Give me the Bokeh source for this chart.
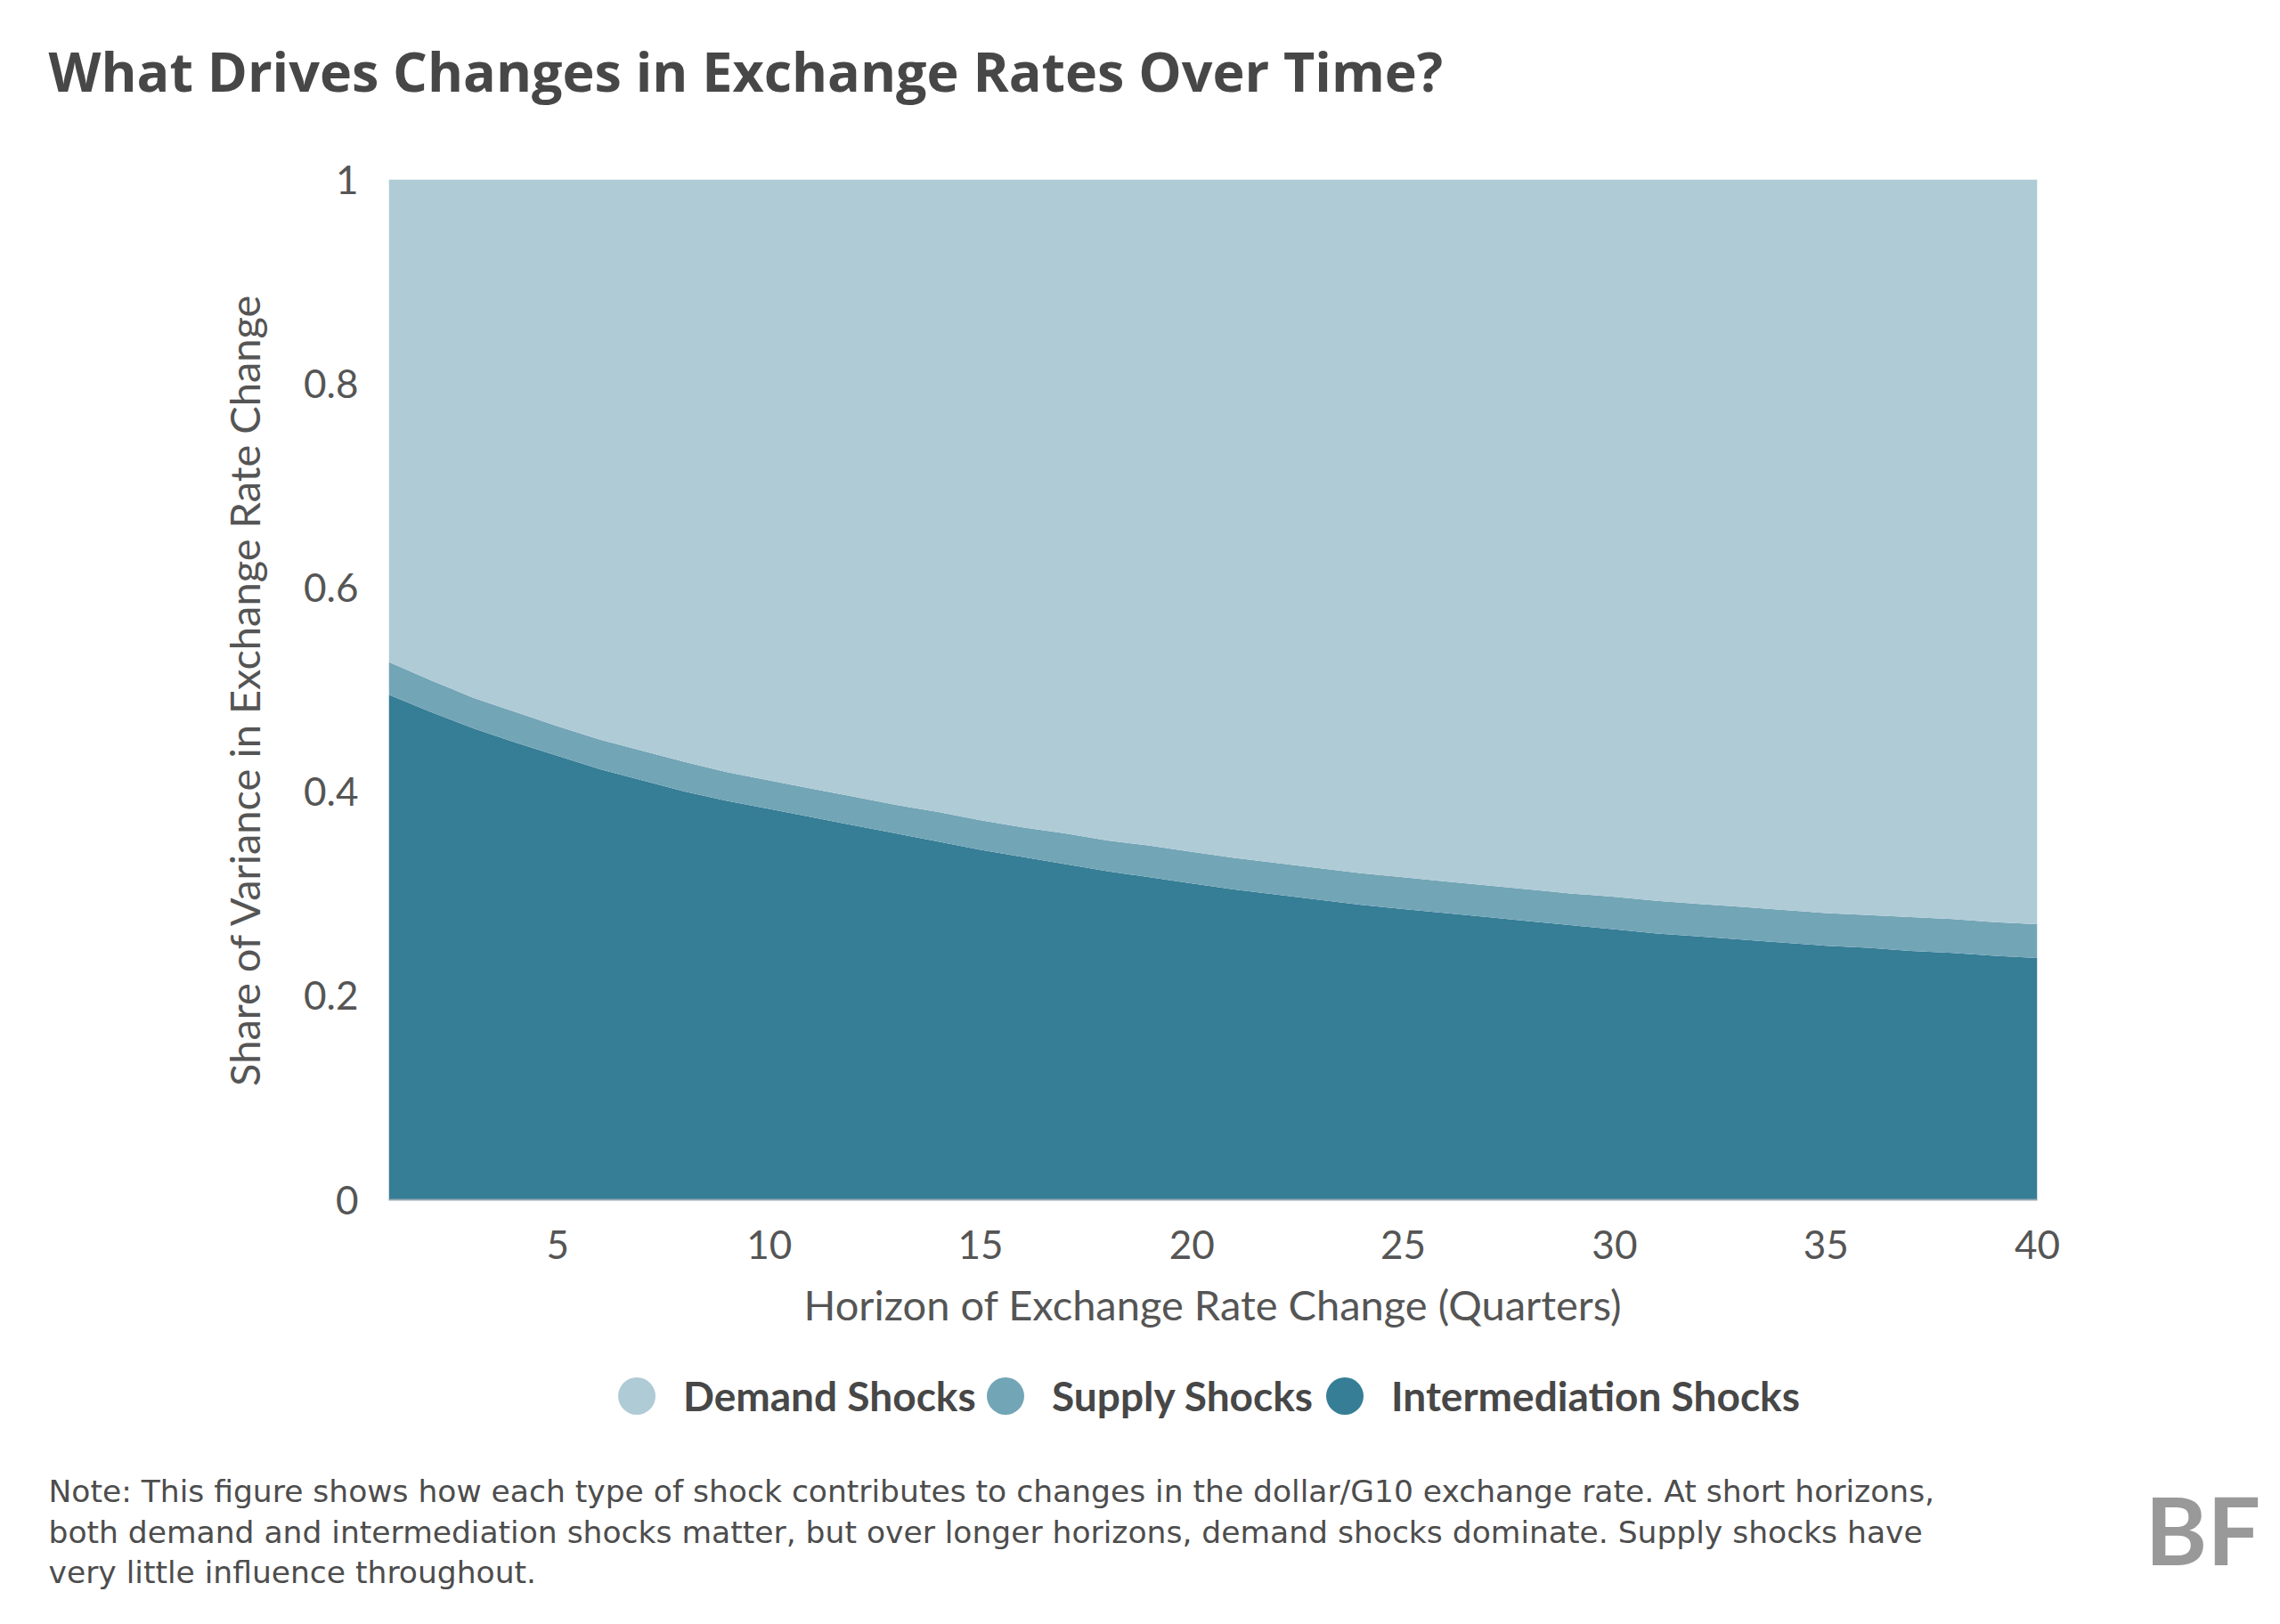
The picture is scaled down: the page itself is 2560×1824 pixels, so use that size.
from bokeh.plotting import figure
from bokeh.layouts import column
from bokeh.models import (ColumnDataSource, Range1d, FixedTicker, Title, Label,
                          Legend, LegendItem)
from bokeh.embed import file_html
from bokeh.resources import INLINE

# Horizon in quarters and variance shares by shock type
quarters = list(range(1, 41))

intermediation = [0.495, 0.478, 0.462, 0.448, 0.435, 0.422, 0.411, 0.400, 0.391, 0.383,
                  0.375, 0.367, 0.359, 0.351, 0.343, 0.336, 0.329, 0.322, 0.316, 0.310,
                  0.304, 0.299, 0.294, 0.289, 0.285, 0.281, 0.277, 0.273, 0.269, 0.265,
                  0.261, 0.258, 0.255, 0.252, 0.249, 0.247, 0.244, 0.242, 0.239, 0.237]

supply = [0.032, 0.031, 0.030, 0.030, 0.029, 0.029, 0.029, 0.029, 0.028, 0.028,
          0.028, 0.028, 0.028, 0.029, 0.029, 0.029, 0.030, 0.030, 0.031, 0.031,
          0.031, 0.031, 0.031, 0.031, 0.031, 0.031, 0.031, 0.031, 0.031, 0.032,
          0.032, 0.032, 0.032, 0.032, 0.032, 0.032, 0.033, 0.033, 0.033, 0.033]

demand = [0.473, 0.491, 0.508, 0.522, 0.536, 0.549, 0.560, 0.571, 0.581, 0.589,
          0.597, 0.605, 0.613, 0.620, 0.628, 0.635, 0.641, 0.648, 0.653, 0.659,
          0.665, 0.670, 0.675, 0.680, 0.684, 0.688, 0.692, 0.696, 0.700, 0.703,
          0.707, 0.710, 0.713, 0.716, 0.719, 0.721, 0.723, 0.725, 0.728, 0.730]

series_names = ["Demand Shocks", "Supply Shocks", "Intermediation Shocks"]
series_colors = ["#afcbd6", "#72a5b6", "#367d96"]

x_ticks = [5, 10, 15, 20, 25, 30, 35, 40]
y_ticks = [0, 0.2, 0.4, 0.6, 0.8, 1]
y_tick_labels = ["0", "0.2", "0.4", "0.6", "0.8", "1"]

title_text = "What Drives Changes in Exchange Rates Over Time?"
note_lines = [
    "Note: This figure shows how each type of shock contributes to changes in the dollar/G10 exchange rate. At short horizons,",
    "both demand and intermediation shocks matter, but over longer horizons, demand shocks dominate. Supply shocks have",
    "very little influence throughout.",
]

TEXT = "#474747"
AXIS_TEXT = "#555555"
W = 2560


def strip(height, top=0, bottom=0):
    """Bare canvas used for the heading and for the legend/note block."""
    f = figure(width=W, height=height, output_backend="svg", toolbar_location=None,
               x_range=Range1d(0, 1), y_range=Range1d(0, 1),
               x_axis_location=None, y_axis_location=None,
               min_border_left=0, min_border_right=0,
               min_border_top=top, min_border_bottom=bottom,
               background_fill_color="white", border_fill_color="white")
    f.outline_line_color = None
    f.grid.visible = False
    return f


# ---- heading (frames line up with the chart, so offset back to the page margin)
head = strip(160)
head.title.text = title_text
head.title.align = "left"
head.title.offset = -382
head.title.standoff = 70
head.title.text_font = "Open Sans"
head.title.text_font_style = "bold"
head.title.text_font_size = "61px"
head.title.text_color = TEXT

# ---- main chart
source = ColumnDataSource(dict(q=quarters, inter=intermediation,
                               supply=supply, demand=demand))

p = figure(width=W, height=1360, output_backend="svg", toolbar_location=None,
           x_range=Range1d(1, 40), y_range=Range1d(0, 1),
           min_border_left=436, min_border_right=273,
           min_border_top=41, min_border_bottom=173,
           background_fill_color="white", border_fill_color="white")
p.outline_line_color = None
p.grid.visible = False

# stacked areas, bottom to top
p.varea_stack(stackers=["inter", "supply", "demand"], x="q",
              color=[series_colors[2], series_colors[1], series_colors[0]],
              source=source)

p.xaxis.ticker = FixedTicker(ticks=x_ticks)
p.yaxis.ticker = FixedTicker(ticks=y_ticks)
p.yaxis.major_label_overrides = {t: s for t, s in zip(y_ticks, y_tick_labels)}
for ax in (p.xaxis[0], p.yaxis[0]):
    ax.major_tick_line_color = None
    ax.minor_tick_line_color = None
    ax.major_label_text_font = "Lato"
    ax.major_label_text_font_size = "44px"
    ax.major_label_text_color = AXIS_TEXT
    ax.axis_label_text_font = "Lato"
    ax.axis_label_text_font_size = "47px"
    ax.axis_label_text_font_style = "normal"
    ax.axis_label_text_color = AXIS_TEXT
    ax.major_label_standoff = 28

p.xaxis.axis_label = "Horizon of Exchange Rate Change (Quarters)"
p.xaxis.axis_label_standoff = 20
p.xaxis.axis_line_color = "#93a8b0"
p.xaxis.axis_line_width = 2
p.yaxis.axis_label = "Share of Variance in Exchange Rate Change"
p.yaxis.axis_label_standoff = 36
p.yaxis.axis_line_color = None

# ---- legend, note and logo
foot = strip(304, top=0, bottom=176)

# one circle swatch per shock type (swatch renderers sit off-range)
legend_x = [226, 640, 1021]
for name, color, lx in zip(series_names, series_colors, legend_x):
    r = foot.scatter(x=[-100], y=[-100], marker="circle", fill_color=color, line_color=None)
    lg = Legend(items=[LegendItem(label=name, renderers=[r])],
                location=(lx, 28), orientation="horizontal",
                glyph_width=105, glyph_height=105, label_standoff=0,
                padding=0, margin=0, spacing=0,
                border_line_color=None, background_fill_alpha=0,
                label_text_font="Lato", label_text_font_style="bold",
                label_text_font_size="46px", label_text_color=TEXT)
    foot.add_layout(lg, "center")

note = Title(text="\n".join(note_lines), align="left", offset=-382, standoff=10,
             text_font="DejaVu Sans", text_font_style="normal",
             text_font_size="34.5px", text_line_height=1.14, text_color="#4d4d4d")
foot.add_layout(note, "below")

logo = Label(x=121, y=-68, x_units="screen", y_units="screen",
             text="BF", text_baseline="middle",
             text_font="Lato", text_font_style="bold",
             text_font_size="106px", text_color="#999999")
foot.add_layout(logo, "right")

layout = column(head, p, foot, spacing=0)
open("out.html", "w").write(file_html(layout, INLINE))
